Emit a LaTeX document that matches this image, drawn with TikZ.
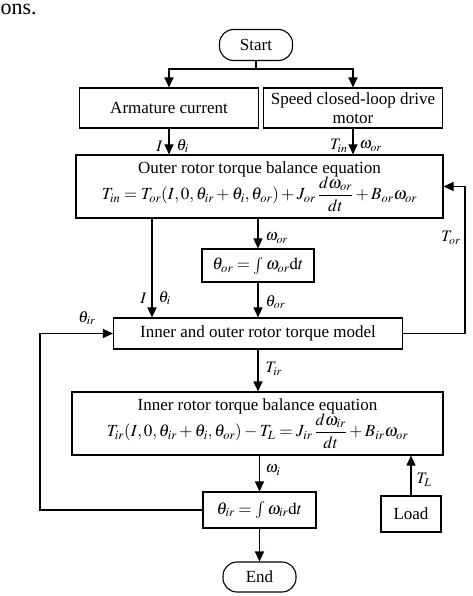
\documentclass[tikz,border=0pt]{standalone}
\usepackage{mathptmx}
\usepackage{fontspec}
\setmainfont{Liberation Serif}
\usetikzlibrary{arrows.meta}
\begin{document}
\begin{tikzpicture}[x=1pt,y=-1pt,line width=1.1pt,
  box/.style={draw,rectangle,inner sep=0pt,align=center,font=\fontsize{17}{19}\selectfont},
  term/.style={box,rounded corners=14pt},
  arr/.style={-{Triangle[length=10pt,width=9pt]}},
  lab/.style={inner sep=1pt,font=\fontsize{16}{18}\selectfont}]
\useasboundingbox (0,0) rectangle (472,596);
\node[anchor=base west,inner sep=0pt,font=\fontsize{22}{24}\selectfont] (cap) at (0,15) {ons.};
\node[term,minimum width=73pt,minimum height=31pt] (start) at (256,45) {Start};
\node[box,minimum width=179pt,minimum height=40pt] (arm) at (169,108) {Armature current};
\node[box,minimum width=179pt,minimum height=40pt] (speed) at (353,108) {Speed closed-loop drive\\motor};
\node[box,minimum width=367pt,minimum height=63pt] (outer) at (259.5,186.5)
  {Outer rotor torque balance equation\\[-1pt]
   $T_{in}=T_{or}(I,0,\theta_{ir}+\theta_i,\theta_{or})+J_{or}\,{\displaystyle\frac{d\omega_{or}}{dt}}+B_{or}\omega_{or}$};
\node[box,minimum width=112pt,minimum height=33pt] (thor) at (258,265.5) {$\theta_{or}=\int\omega_{or}\mathrm{d}t$};
\node[box,minimum width=289pt,minimum height=31pt] (model) at (258,333.5) {Inner and outer rotor torque model};
\node[box,minimum width=371pt,minimum height=63pt] (inner) at (257.5,423.5)
  {Inner rotor torque balance equation\\[-1pt]
   $T_{ir}(I,0,\theta_{ir}+\theta_i,\theta_{or})-T_L=J_{ir}\,{\displaystyle\frac{d\omega_{ir}}{dt}}+B_{ir}\omega_{or}$};
\node[box,minimum width=113pt,minimum height=36pt] (thir) at (259.5,510) {$\theta_{ir}=\int\omega_{ir}\mathrm{d}t$};
\node[term,minimum width=73pt,minimum height=30pt] (end) at (259.5,577) {End};
\node[box,minimum width=60pt,minimum height=36pt] (load) at (411,514) {Load};
\coordinate (j1) at (256,69);
\draw (start.south) -- (j1);
\draw[arr] (j1) -| (arm.north);
\draw[arr] (j1) -| (speed.north);
\draw[arr] (arm.south) -- (arm.south |- outer.north);
\draw[arr] (speed.south) -- (speed.south |- outer.north);
\draw[arr] (152,0 |- outer.south) -- (152,0 |- model.north);
\draw[arr] (thor.north |- outer.south) -- (thor.north);
\draw[arr] (thor.south) -- (thor.south |- model.north);
\draw[arr] (model.east) -- (465,0 |- model.east) -- (465,0 |- outer.east) -- (outer.east);
\draw[arr] (model.south) -- (model.south |- inner.north);
\draw[arr] (thir.north |- inner.south) -- (thir.north);
\draw[arr] (thir.west) -- (40,0 |- thir.west) -- (40,0 |- model.west) -- (model.west);
\draw[arr] (thir.south) -- (thir.south |- end.north);
\draw[arr] (load.north) -- (load.north |- inner.south);
\node[lab,anchor=east] (l1) at (164,146) {$I$};
\node[lab,anchor=west] (l2) at (175,146) {$\theta_i$};
\node[lab,anchor=east] (l3) at (349,146) {$T_{in}$};
\node[lab,anchor=west] (l4) at (358,146) {$\omega_{or}$};
\node[lab,anchor=east] (l5) at (148,298) {$I$};
\node[lab,anchor=west] (l6) at (157,298) {$\theta_i$};
\node[lab,anchor=west] (l7) at (264,238) {$\omega_{or}$};
\node[lab,anchor=west] (l8) at (264,302) {$\theta_{or}$};
\node[lab,anchor=east] (l9) at (462,238) {$T_{or}$};
\node[lab] (l10) at (87,318) {$\theta_{ir}$};
\node[lab,anchor=west] (l11) at (264,369) {$T_{ir}$};
\node[lab,anchor=west] (l12) at (264,470) {$\omega_i$};
\node[lab,anchor=west] (l13) at (415,480) {$T_L$};
\end{tikzpicture}
\end{document}
